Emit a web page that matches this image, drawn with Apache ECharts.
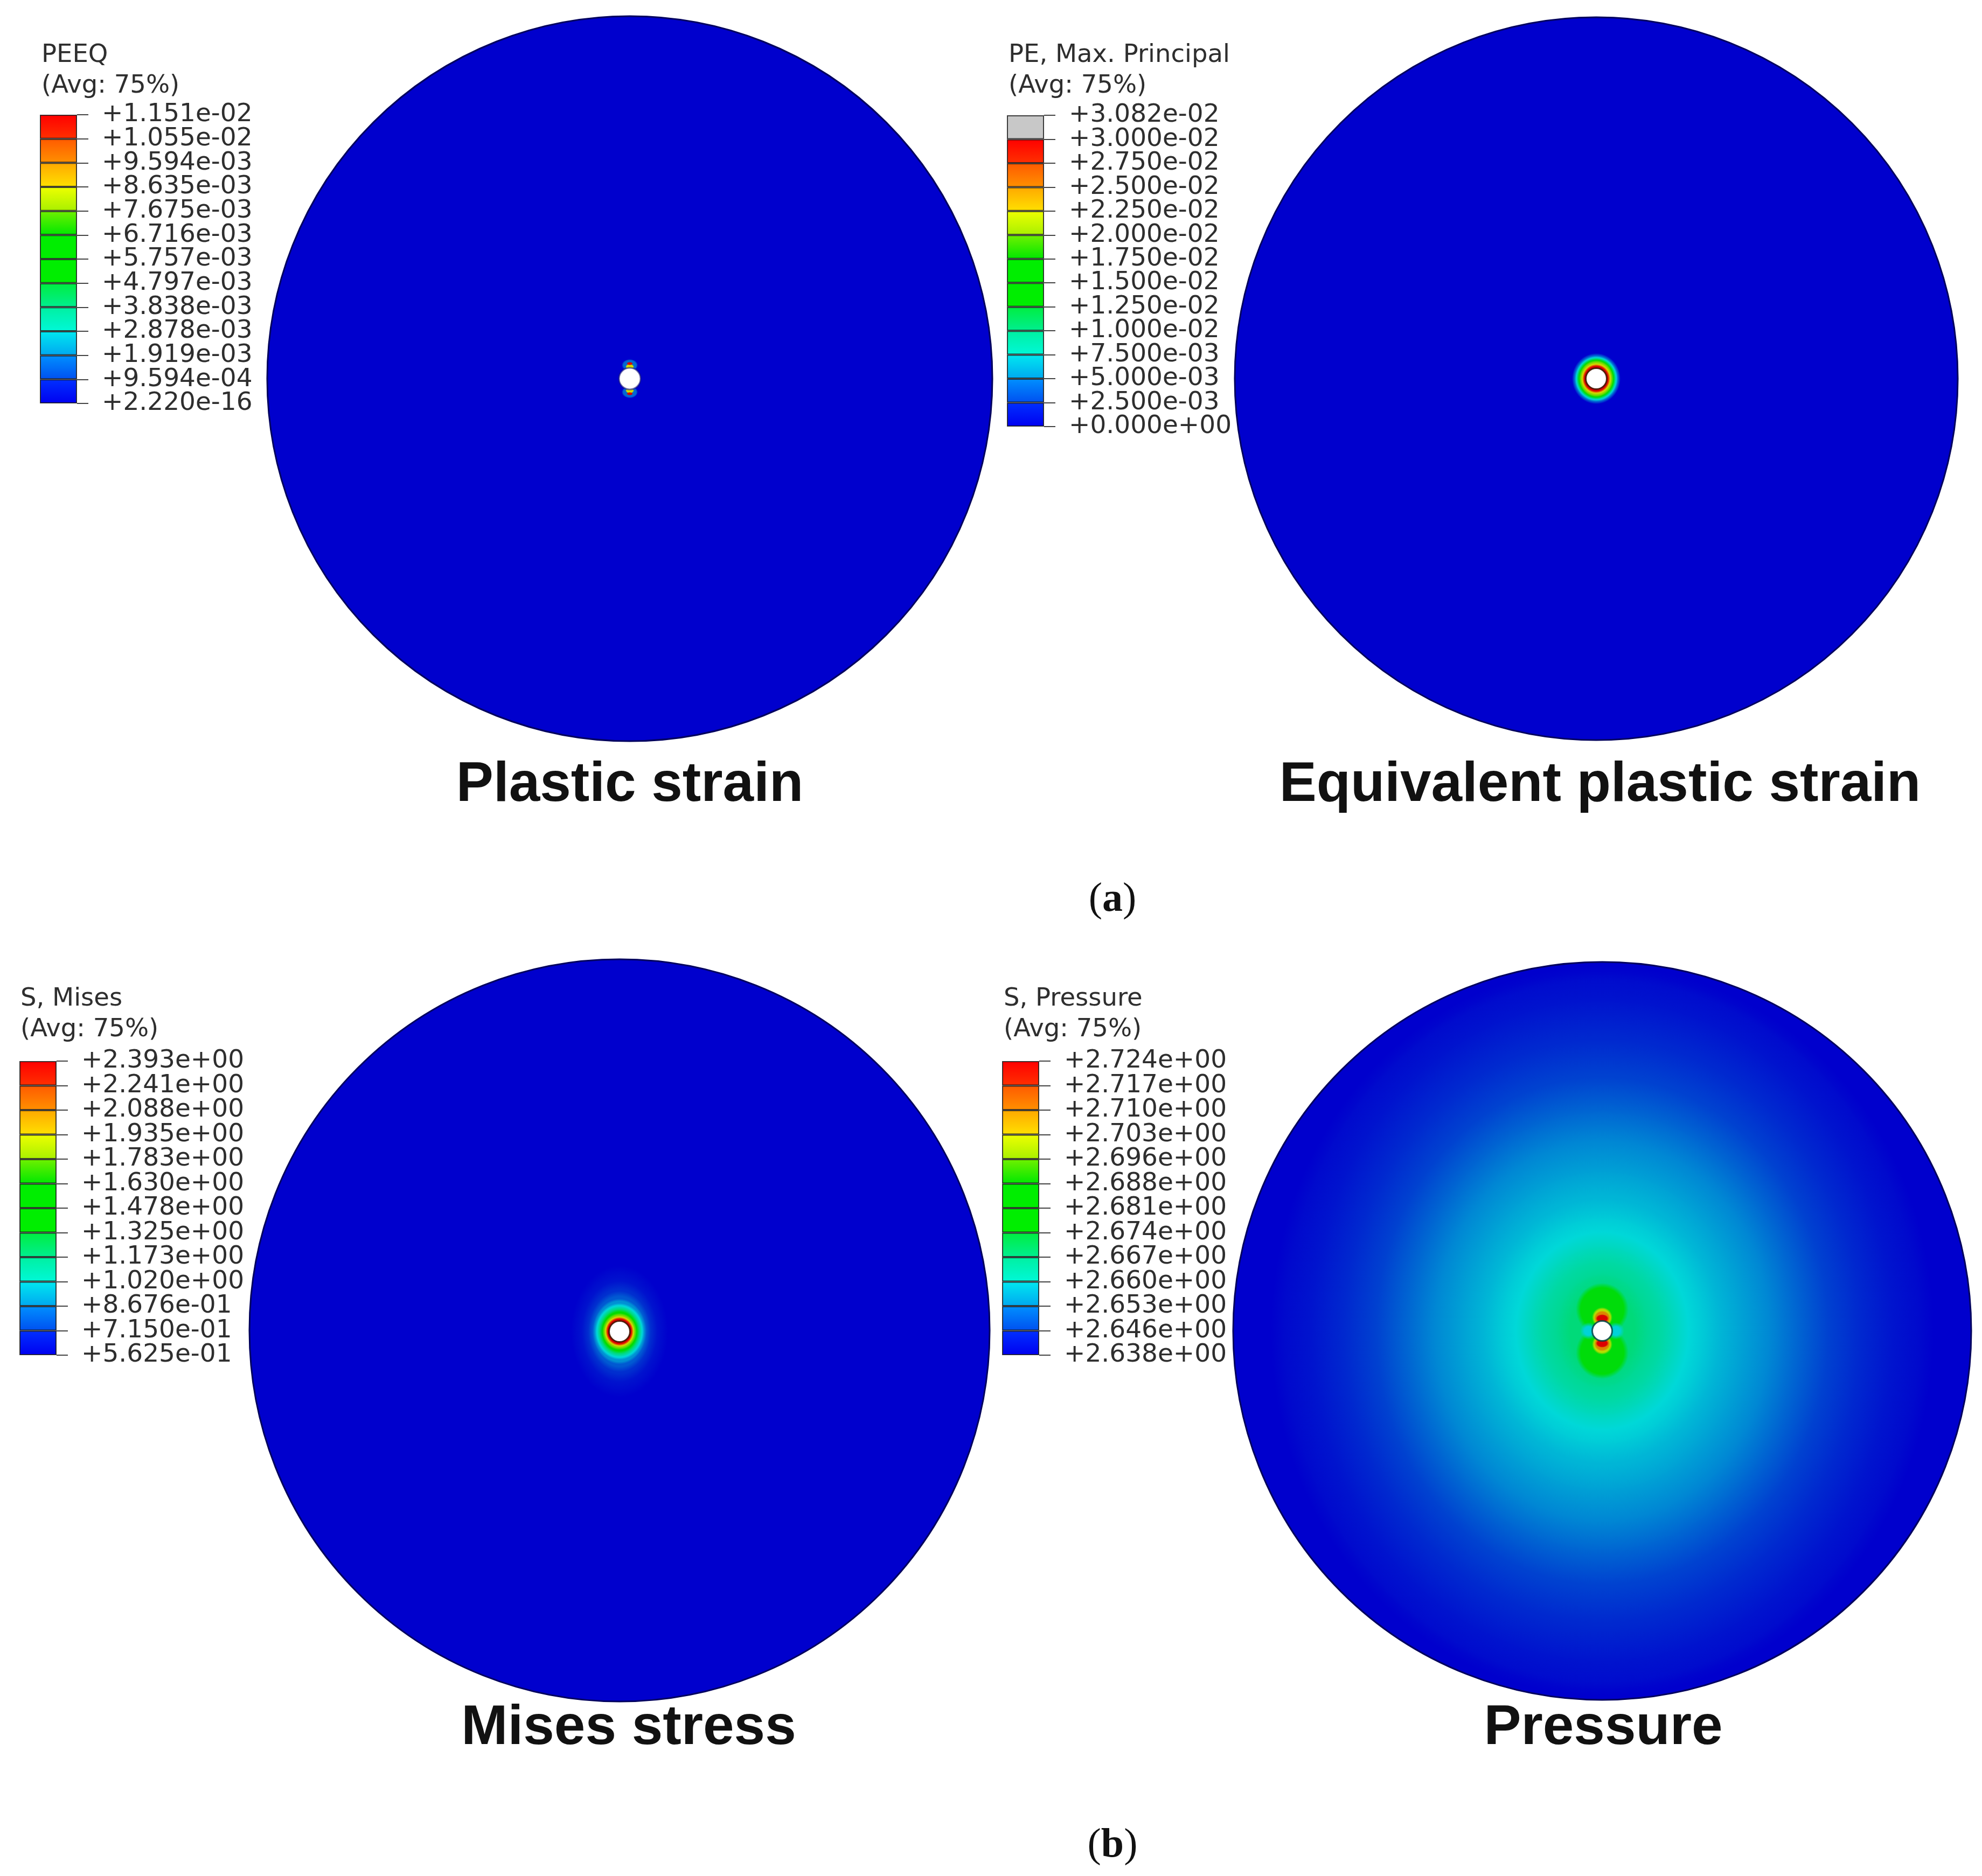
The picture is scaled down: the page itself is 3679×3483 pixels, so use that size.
<!DOCTYPE html>
<html>
<head>
<meta charset="utf-8">
<style>html,body{margin:0;padding:0;background:#fff}#main{width:3679px;height:3483px}</style>
<script src="https://cdn.jsdelivr.net/npm/echarts@6/dist/echarts.min.js"></script>
</head>
<body>
<div id="main"></div>
<script>
// tick labels, top to bottom as printed next to each contour bar
const peeqTicks = ['+1.151e-02','+1.055e-02','+9.594e-03','+8.635e-03','+7.675e-03','+6.716e-03','+5.757e-03','+4.797e-03','+3.838e-03','+2.878e-03','+1.919e-03','+9.594e-04','+2.220e-16'];
const peTicks = ['+3.082e-02','+3.000e-02','+2.750e-02','+2.500e-02','+2.250e-02','+2.000e-02','+1.750e-02','+1.500e-02','+1.250e-02','+1.000e-02','+7.500e-03','+5.000e-03','+2.500e-03','+0.000e+00'];
const misesTicks = ['+2.393e+00','+2.241e+00','+2.088e+00','+1.935e+00','+1.783e+00','+1.630e+00','+1.478e+00','+1.325e+00','+1.173e+00','+1.020e+00','+8.676e-01','+7.150e-01','+5.625e-01'];
const pressureTicks = ['+2.724e+00','+2.717e+00','+2.710e+00','+2.703e+00','+2.696e+00','+2.688e+00','+2.681e+00','+2.674e+00','+2.667e+00','+2.660e+00','+2.653e+00','+2.646e+00','+2.638e+00'];

// contours read off each disc, outermost first:
// [value, centre x, centre y, radius x, radius y, distance over which it fades into the contour outside it]
const peeqContours = [
  [0, 0, 0, 673, 673, 0],
  [0.0014, 0, 25, 12, 9, 3], [0.0014, 0, -25, 12, 9, 3],
  [0.0085, 0, 22, 6, 4, 2], [0.0085, 0, -22, 6, 4, 2],
  [0.0115, 0, 28, 4, 2, 2], [0.0115, 0, -28, 4, 2, 2]
];
const peContours = [
  [0, 0, 0, 671, 671, 0],
  [0.0040, 0, 0, 40, 42, 5],
  [0.0075, 0, 0, 37, 39, 3],
  [0.0105, 0, 0, 35, 37, 2],
  [0.0150, 0, 0, 32, 34, 3],
  [0.0200, 0, 0, 28, 30, 4],
  [0.0225, 0, 0, 26, 27, 2],
  [0.0260, 0, 0, 24, 25, 2],
  [0.0300, 0, 0, 22, 23, 2]
];
const misesContours = [
  [0.5625, 0, 2, 687, 689, 0],
  [0.60, 0, 0, 70, 95, 20],
  [0.66, 0, 0, 58, 78, 12],
  [0.75, 0, 0, 50, 65, 8],
  [0.87, 0, 0, 46, 56, 4],
  [1.02, 0, 0, 42, 48, 4],
  [1.20, 0, 0, 37, 42, 5],
  [1.48, 0, 0, 32, 36, 5],
  [1.75, 0, 0, 28, 30, 4],
  [1.93, 0, 0, 26, 27, 2],
  [2.15, 0, 0, 24, 25, 2],
  [2.39, 0, 0, 22, 23, 2]
];
const pressureContours = [
  [2.6380, 0, 0, 685, 685, 0],
  [2.6389, 0, 0, 590, 650, 25],
  [2.6400, 0, 0, 540, 610, 50],
  [2.6420, 0, 0, 480, 545, 60],
  [2.6445, 0, 0, 420, 475, 60],
  [2.6483, 0, 0, 360, 405, 60],
  [2.6515, 0, 0, 310, 350, 50],
  [2.6540, 0, 0, 260, 293, 50],
  [2.6560, 0, 0, 220, 250, 40],
  [2.6582, 0, 0, 185, 208, 35],
  [2.6595, 0, 0, 160, 182, 25],
  [2.6621, 0, 0, 135, 155, 25],
  [2.6647, 0, 0, 110, 128, 25],
  [2.6664, 0, 0, 85, 100, 25],
  [2.6690, 0, 0, 60, 75, 25],
  [2.6800, 0, 40, 40, 40, 9], [2.6800, 0, -40, 40, 40, 9],
  [2.6990, 0, 25, 15, 15, 4], [2.6990, 0, -25, 15, 15, 4],
  [2.7110, 0, 24, 12, 11, 3], [2.7110, 0, -24, 12, 11, 3],
  [2.7240, 0, 23, 9, 6, 3], [2.7240, 0, -23, 9, 6, 3],
  [2.6590, 25, 0, 8, 8, 8], [2.6590, -25, 0, 8, 8, 8]
];

// gradient of each colour band on the bars, top to bottom
const bandColors = [
  ['#ff0000', '#ff3000'], ['#ff5a00', '#ff9000'], ['#ffa800', '#ffe000'], ['#eeff00', '#a8f000'],
  ['#70f000', '#00e800'], ['#00ee00', '#00ee00'], ['#00ee00', '#00ee00'], ['#00ee40', '#00ee90'],
  ['#00f0a0', '#00f8d8'], ['#00e8f0', '#00a8f0'], ['#0090ff', '#0050f0'], ['#0030ff', '#0000f0']
];
const overRangeColor = ['#c8c8c8', '#c8c8c8'];
const fieldColors = ['#0000cd', '#00d8d8', '#00dc00', '#dcdc00', '#dc0000'];

const LABEL_FONT = 'DejaVu Sans';

const legends = [
  { head: 'PEEQ\n(Avg: 75%)', ticks: peeqTicks, left: 74, top: 213, bottom: 749, headTop: 74, headLeft: 77 },
  { head: 'PE, Max. Principal\n(Avg: 75%)', ticks: peTicks, left: 1869, top: 214, bottom: 792, headTop: 74, headLeft: 1872, over: true },
  { head: 'S, Mises\n(Avg: 75%)', ticks: misesTicks, left: 36, top: 1970, bottom: 2516, headTop: 1826, headLeft: 38 },
  { head: 'S, Pressure\n(Avg: 75%)', ticks: pressureTicks, left: 1860, top: 1970, bottom: 2516, headTop: 1826, headLeft: 1863 }
];
const discs = [
  { contours: peeqContours, cx: 1169, cy: 703, r: 673, min: 0, max: 0.01151, rim: 'rgba(20,20,120,0.6)', hole: 40 },
  { contours: peContours, cx: 2963, cy: 703, r: 671, min: 0, max: 0.03, rim: 'rgba(70,20,0,0.9)', hole: 39 },
  { contours: misesContours, cx: 1150, cy: 2472, r: 690, min: 0.5625, max: 2.393, rim: 'rgba(70,20,0,0.9)', hole: 39 },
  { contours: pressureContours, cx: 2974, cy: 2471, r: 685, min: 2.638, max: 2.724, rim: 'rgba(0,70,70,0.85)', hole: 37 }
];
const captions = [
  { text: 'Plastic strain', x: 1169, y: 1458 },
  { text: 'Equivalent plastic strain', x: 2970, y: 1458 },
  { text: 'Mises stress', x: 1167, y: 3209 },
  { text: 'Pressure', x: 2976, y: 3209 }
];
const panelTags = [
  { tag: 'a', x: 2065, y: 1671 },
  { tag: 'b', x: 2065, y: 3427 }
];

const grids = [], xAxes = [], yAxes = [], series = [], visualMaps = [], titles = [];

legends.forEach((lg, i) => {
  const n = lg.ticks.length - 1;
  const step = (lg.bottom - lg.top) / n;
  const bands = lg.over ? [overRangeColor].concat(bandColors) : bandColors;
  // one spare unit at each end keeps the first and last tick labels from being culled
  grids.push({ left: lg.left, top: lg.top - step, width: 69, height: lg.bottom - lg.top + 2 * step });
  xAxes.push({ gridIndex: i, type: 'category', data: ['bar'], show: false });
  yAxes.push({
    gridIndex: i, type: 'value', position: 'right', min: -1, max: n + 1, interval: 1,
    splitLine: { show: false }, axisLine: { show: false },
    axisTick: {
      show: true, length: 21, lineStyle: { color: '#444', width: 2 },
      customValues: lg.ticks.map((t, k) => k)
    },
    axisLabel: {
      margin: 46, color: '#2e2e2e', fontFamily: LABEL_FONT, fontSize: 47, lineHeight: 24,
      formatter: v => lg.ticks[n - v] || ''
    }
  });
  // bands from the bottom of the bar upwards
  for (let k = n - 1; k >= 0; k--) {
    series.push({
      type: 'bar', xAxisIndex: i, yAxisIndex: i, stack: 'bar' + i, barWidth: '100%', silent: true,
      data: [1],
      itemStyle: {
        borderColor: 'rgba(20,20,20,0.8)', borderWidth: 2,
        color: new echarts.graphic.LinearGradient(0, 0, 0, 1, [
          { offset: 0, color: bands[k][0] }, { offset: 1, color: bands[k][1] }
        ])
      }
    });
  }
  titles.push({
    text: lg.head, left: lg.headLeft, top: lg.headTop, padding: 0,
    textStyle: { color: '#2e2e2e', fontFamily: LABEL_FONT, fontSize: 46.5, fontWeight: 'normal', lineHeight: 57 }
  });
});

// each contour is a soft-edged oval: solid up to its own radius, then fading out
function renderField(params, api) {
  const c = api.coord([api.value(1), api.value(2)]);
  const s = api.size([api.value(3), api.value(4)]);
  const soft = api.size([api.value(5), 0])[0];
  const fill = api.visual('color');
  const outer = s[0] + soft;
  return {
    type: 'circle',
    x: c[0], y: c[1],
    scaleX: 1, scaleY: s[1] / s[0],
    shape: { cx: 0, cy: 0, r: outer },
    style: {
      fill: soft > 0 ? new echarts.graphic.RadialGradient(0.5, 0.5, 0.5, [
        { offset: 0, color: fill },
        { offset: s[0] / outer, color: fill },
        { offset: 1, color: echarts.color.modifyAlpha(fill, 0) }
      ]) : fill,
      stroke: params.dataIndex === 0 ? '#00005e' : null,
      lineWidth: params.dataIndex === 0 ? 3 : 0
    }
  };
}

discs.forEach((d, j) => {
  const g = legends.length + j;
  grids.push({ left: d.cx - d.r - 10, top: d.cy - d.r - 10, width: 2 * d.r + 20, height: 2 * d.r + 20 });
  xAxes.push({ gridIndex: g, type: 'value', min: -d.r - 10, max: d.r + 10, show: false });
  yAxes.push({ gridIndex: g, type: 'value', min: -d.r - 10, max: d.r + 10, show: false });
  series.push({
    type: 'custom', xAxisIndex: g, yAxisIndex: g, coordinateSystem: 'cartesian2d', silent: true,
    clip: false, renderItem: renderField, data: d.contours,
    encode: { x: 1, y: 2 }
  });
  visualMaps.push({
    show: false, type: 'continuous', seriesIndex: series.length - 1, dimension: 0,
    min: d.min, max: d.max, inRange: { color: fieldColors }
  });
  // the hole in the middle of the disc
  series.push({
    type: 'scatter', xAxisIndex: g, yAxisIndex: g, silent: true, z: 5,
    symbol: 'circle', symbolSize: d.hole, data: [[0, 0]],
    itemStyle: { color: '#fff', borderColor: d.rim, borderWidth: 3, opacity: 1 }
  });
});

captions.forEach(c => titles.push({
  text: c.text, left: c.x, top: c.y - 52, textAlign: 'center', padding: 0,
  textStyle: { color: '#111', fontFamily: 'Liberation Sans', fontSize: 103.5, fontWeight: 'bold', lineHeight: 104 }
}));
panelTags.forEach(p => titles.push({
  text: '{n|(}{b|' + p.tag + '}{n|)}', left: p.x, top: p.y - 40, textAlign: 'center', padding: 0,
  textStyle: {
    fontWeight: 'normal',
    rich: {
      n: { fontFamily: 'Liberation Serif', fontSize: 76, color: '#111', fontWeight: 'normal', lineHeight: 80 },
      b: { fontFamily: 'Liberation Serif', fontSize: 76, color: '#111', fontWeight: 'bold', lineHeight: 80 }
    }
  }
}));

const chart = echarts.init(document.getElementById('main'));
chart.setOption({
  animation: false,
  backgroundColor: '#fff',
  title: titles,
  grid: grids,
  xAxis: xAxes,
  yAxis: yAxes,
  visualMap: visualMaps,
  series: series
});
</script>
</body>
</html>
